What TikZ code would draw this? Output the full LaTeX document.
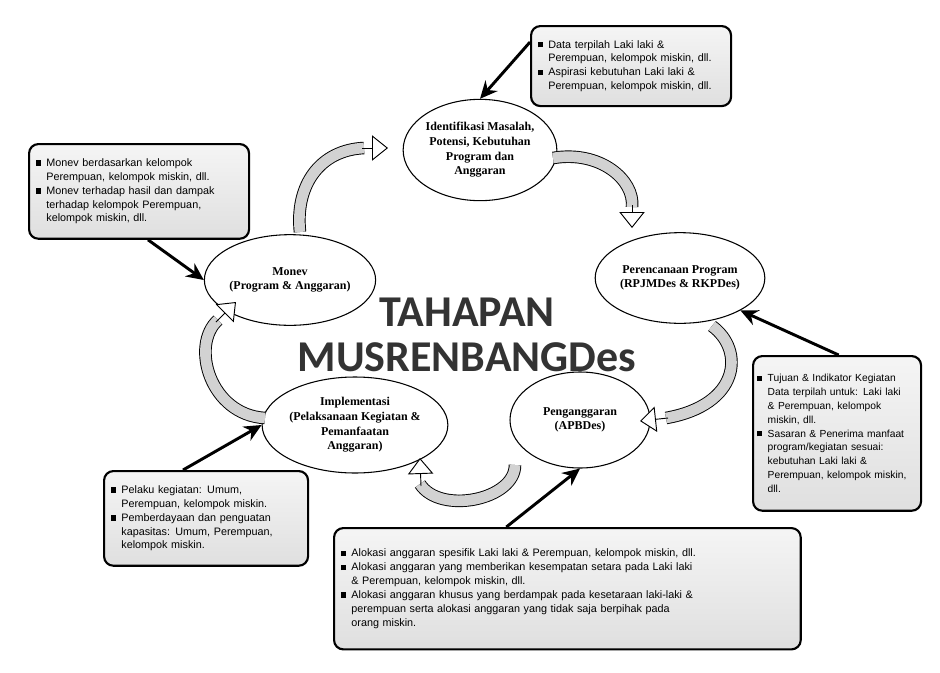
\documentclass[tikz,border=0pt]{standalone}
\usepackage{fontspec}
\setmainfont{Liberation Serif}
\newfontfamily\boxfont{Liberation Sans}
\newfontfamily\titlefont{Carlito}
\usetikzlibrary{arrows.meta,shapes.geometric}
\newcommand{\bsq}{\rule[0.5pt]{4pt}{4pt}\hspace{4pt}}
\newcommand{\bind}{\hspace*{8pt}}
\begin{document}
\begin{tikzpicture}[x=0.75pt,y=-0.75pt,
  stage/.style={ellipse,draw,line width=0.8pt,fill=white,font=\bfseries\fontsize{9}{11}\selectfont,align=center,inner sep=0pt},
  info/.style={draw,line width=1.6pt,rounded corners=7pt,top color=gray!8,bottom color=gray!25,anchor=north west,font=\boxfont\fontsize{8.1}{10.4}\selectfont,align=left,inner sep=5pt},
  pointer/.style={line width=2.2pt,-{Stealth[length=13pt,width=12pt]}},
  band/.style={double=gray!35,double distance=8pt,line width=0.7pt},
  bhead/.style={line width=0.7pt,-{Triangle[open,length=12pt,width=19pt,fill=white]}}]
\useasboundingbox (0,0) rectangle (940,672);
\fill[white] (0,0) rectangle (940,672);
\node[stage,minimum width=105pt,minimum height=76pt] (idf) at (480,150) {Identifikasi Masalah,\\Potensi, Kebutuhan\\Program dan\\Anggaran};
\node[stage,minimum width=113pt,minimum height=68pt] (mon) at (290,280) {Monev\\(Program \& Anggaran)};
\node[stage,minimum width=113pt,minimum height=68pt] (per) at (680,278) {Perencanaan Program\\(RPJMDes \& RKPDes)};
\node[stage,minimum width=124pt,minimum height=72pt] (imp) at (355,425) {Implementasi\\(Pelaksanaan Kegiatan \&\\Pemanfaatan\\Anggaran)};
\node[stage,minimum width=105pt,minimum height=72pt] (ang) at (580,420) {Penganggaran\\(APBDes)};
\node[font=\titlefont\bfseries\fontsize{33}{34}\selectfont,text=black!80,align=center] (ttl) at (467,335) {TAHAPAN\\MUSRENBANGDes};
% curved block arrows
\draw[band] (300,232) .. controls (295,185) and (320,150) .. (364,148);
\draw[bhead] (362,148) -- (388,148);
\draw[band] (553,158) .. controls (600,150) and (635,180) .. (632,207);
\draw[bhead] (632,205) -- (632,228);
\draw[band] (712,326) .. controls (745,350) and (740,405) .. (666,418);
\draw[bhead] (668,418) -- (640,421);
\draw[band] (515,465) .. controls (515,500) and (440,515) .. (420,484);
\draw[bhead] (421,486) -- (420,458);
\draw[band] (265,418) .. controls (210,415) and (190,345) .. (218,320);
\draw[bhead] (216,322) -- (236,302);
% info boxes
\node[info,text width=140pt,minimum height=60pt] (b1) at (530,25) {\bsq Data terpilah Laki laki \&\\\bind Perempuan, kelompok miskin, dll.\\\bsq Aspirasi kebutuhan Laki laki \&\\\bind Perempuan, kelompok miskin, dll.};
\node[info,text width=155pt,minimum height=71pt] (b2) at (28,143) {\bsq Monev berdasarkan kelompok\\\bind Perempuan, kelompok miskin, dll.\\\bsq Monev terhadap hasil dan dampak\\\bind terhadap kelompok Perempuan,\\\bind kelompok miskin, dll.};
\node[info,text width=120pt,inner xsep=3pt,minimum height=116pt,font=\boxfont\fontsize{7.7}{10.4}\selectfont] (b3) at (752,355) {\bsq Tujuan \& Indikator Kegiatan\\\bind Data terpilah untuk: Laki laki\\\bind \& Perempuan, kelompok\\\bind miskin, dll.\\\bsq Sasaran \& Penerima manfaat\\\bind program/kegiatan sesuai:\\\bind kebutuhan Laki laki \&\\\bind Perempuan, kelompok miskin,\\\bind dll.};
\node[info,text width=143pt,minimum height=71pt] (b4) at (103,470) {\bsq Pelaku kegiatan: Umum,\\\bind Perempuan, kelompok miskin.\\\bsq Pemberdayaan dan penguatan\\\bind kapasitas: Umum, Perempuan,\\\bind kelompok miskin.};
\node[info,text width=340pt,minimum height=91pt] (b5) at (333,527) {\bsq Alokasi anggaran spesifik Laki laki \& Perempuan, kelompok miskin, dll.\\\bsq Alokasi anggaran yang memberikan kesempatan setara pada Laki laki\\\bind \& Perempuan, kelompok miskin, dll.\\\bsq Alokasi anggaran khusus yang berdampak pada kesetaraan laki-laki \&\\\bind perempuan serta alokasi anggaran yang tidak saja berpihak pada\\\bind orang miskin.};
% pointers
\draw[pointer] ([yshift=18pt]b1.west) -- (idf.north);
\draw[pointer] ([xshift=90pt]b2.south west) -- (mon.west);
\draw[pointer] ([xshift=65pt]b3.north west) -- (per.south east);
\draw[pointer] ([xshift=60pt]b4.north west) -- (imp.west);
\draw[pointer] ([xshift=130pt]b5.north west) -- (ang.south);
\end{tikzpicture}
\end{document}
